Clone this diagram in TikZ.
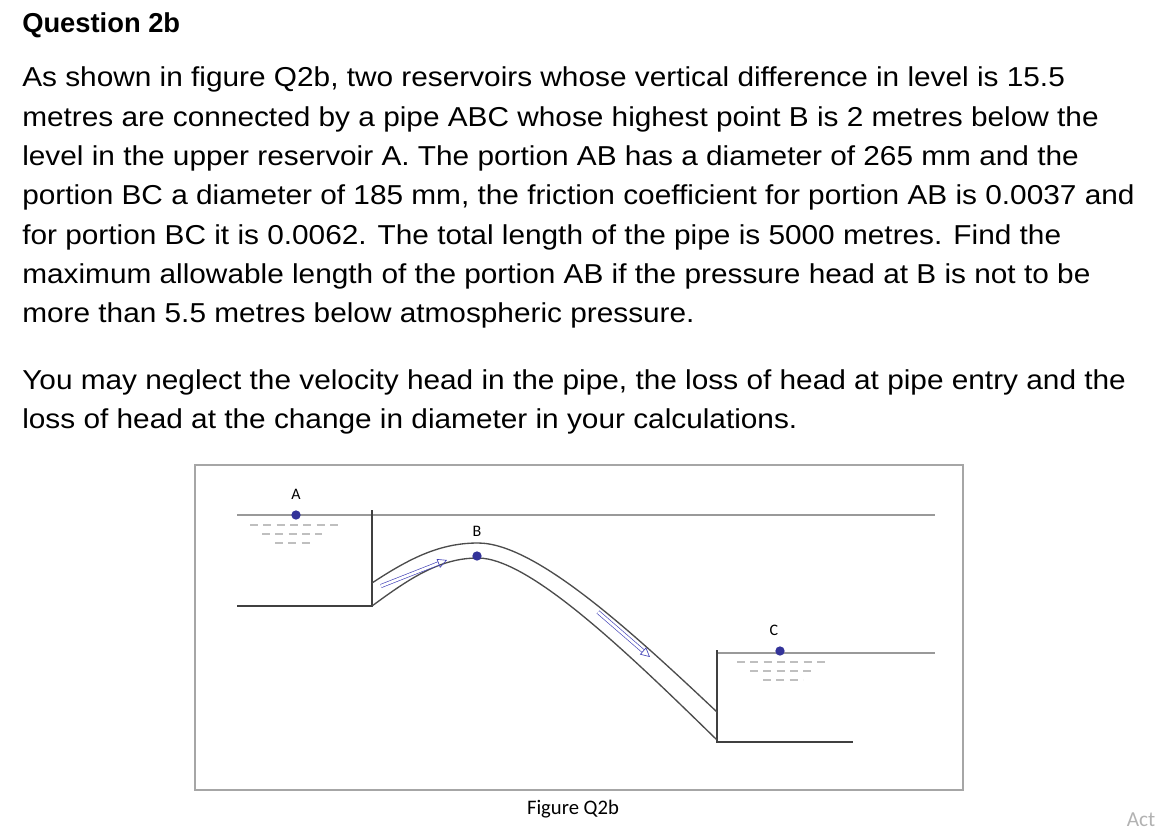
\documentclass[tikz,border=0pt]{standalone}
\usepackage{fontspec}
\setmainfont{Liberation Sans}
\newfontfamily\calib{Carlito}
\usetikzlibrary{arrows.meta}
\begin{document}
\begin{tikzpicture}[x=0.75pt,y=-0.75pt,
  txt/.style={anchor=base west,inner sep=0pt,font=\fontsize{20.5}{24}\selectfont},
  ln/.style={draw=gray!80,line width=0.9pt},
  wall/.style={draw=black!75,line width=1.2pt},
  dot/.style={circle,fill=blue!50!black!80!white,inner sep=0pt,minimum size=7pt},
  lab/.style={font=\calib\fontsize{12}{13}\selectfont,inner sep=0pt},
  wdash/.style={draw=gray!50,line width=0.8pt,dash pattern=on 6pt off 4pt},
  flow/.style={draw=blue!45!gray,line width=0.5pt,double distance=2pt,-{Triangle[open,length=7pt,width=7pt]}}]
\useasboundingbox (0,0) rectangle (1161,839);
\node[txt,font=\bfseries\fontsize{20.5}{24}\selectfont] (q) at (22,32) {Question 2b};
\begin{scope}[txt/.append style={xscale=1.09}]
\node[txt] (l1) at (22,86) {As shown in figure Q2b, two reservoirs whose vertical difference in level is 15.5};
\node[txt] (l2) at (22,126) {metres are connected by a pipe ABC whose highest point B is 2 metres below the};
\node[txt] (l3) at (22,165) {level in the upper reservoir A. The portion AB has a diameter of 265 mm and the};
\node[txt] (l4) at (22,204) {portion BC a diameter of 185 mm, the friction coefficient for portion AB is 0.0037 and};
\node[txt] (l5) at (22,244) {for portion BC it is 0.0062. The total length of the pipe is 5000 metres. Find the};
\node[txt] (l6) at (22,283) {maximum allowable length of the portion AB if the pressure head at B is not to be};
\node[txt] (l7) at (22,322) {more than 5.5 metres below atmospheric pressure.};
\node[txt] (l8) at (22,389) {You may neglect the velocity head in the pipe, the loss of head at pipe entry and the};
\node[txt] (l9) at (22,428) {loss of head at the change in diameter in your calculations.};
\end{scope}
% frame
\draw[draw=gray!70,line width=1.2pt] (195,465) rectangle (963,790);
% upper reservoir
\draw[ln] (237,515) -- (935,515);
\draw[wall] (372,510) -- (372,606) -- (237,606);
\foreach \y/\a/\b in {525/250/340,534/262/322,543/275/312}
  \draw[wdash] (\a,\y) -- (\b,\y);
% lower reservoir
\draw[ln] (717,653) -- (935,653);
\draw[wall] (717,650) -- (717,742) -- (853,742);
\foreach \y/\a/\b in {662/737/830,671/750/816,680/763/803}
  \draw[wdash] (\a,\y) -- (\b,\y);
% pipe
\draw[draw=black!70,line width=1pt] (372,583) .. controls (410,558) and (440,543) .. (478,543) .. controls (535,543) and (630,630) .. (717,712);
\draw[draw=black!70,line width=1pt] (372,606) .. controls (410,578) and (440,558) .. (478,558) .. controls (530,558) and (630,655) .. (717,740);
\draw[flow] (381,586) -- (447,560);
\draw[flow] (598,612) -- (650,657);
% points
\node[dot] (A) at (296,515) {};
\node[lab] (Al) at (296,494) {A};
\node[dot] (B) at (477,556) {};
\node[lab] (Bl) at (477,531) {B};
\node[dot] (C) at (780,651) {};
\node[lab] (Cl) at (774,630) {C};
\node[font=\calib\fontsize{15.5}{18}\selectfont,inner sep=0pt] (cap) at (573,809) {Figure Q2b};
\node[font=\calib\fontsize{16}{18}\selectfont,text=gray!60,inner sep=0pt] (act) at (1141,820) {Act};
\end{tikzpicture}
\end{document}
